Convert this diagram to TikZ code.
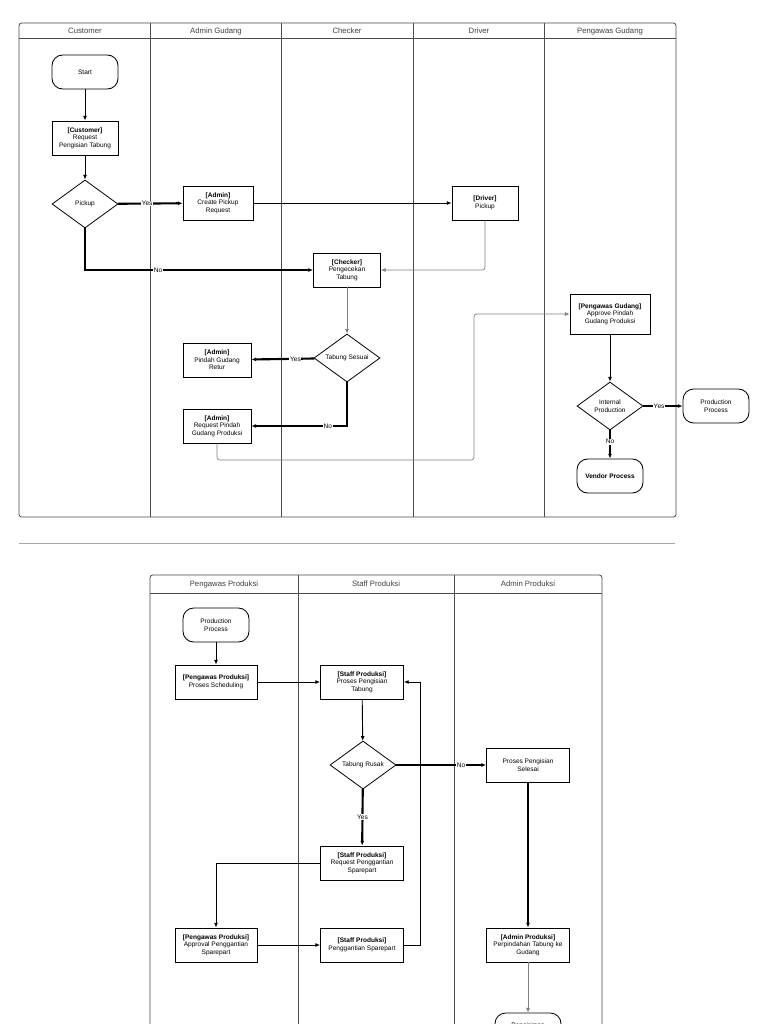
\documentclass[tikz,border=0pt]{standalone}
\usepackage{fontspec}
\setmainfont{Liberation Sans}
\usetikzlibrary{shapes.geometric,arrows.meta}
\begin{document}
\begin{tikzpicture}[x=0.75pt,y=-0.75pt,
  box/.style={draw,line width=0.65pt,font=\fontsize{4.9}{5.7}\selectfont,align=center,minimum width=66*0.75pt,minimum height=34*0.75pt,inner sep=1pt},
  term/.style={box,rounded corners=8pt},
  dec/.style={draw,diamond,aspect=1.4,line width=0.6pt,font=\fontsize{4.9}{5.7}\selectfont,align=center,minimum width=66*0.75pt,minimum height=48*0.75pt,inner sep=0pt},
  ar/.style={-{Latex[length=3.5pt,width=3pt]},line width=0.7pt},
  thk/.style={ar,line width=1.6pt},
  gr/.style={ar,draw=gray,line width=0.5pt},
  lbl/.style={font=\fontsize{4.9}{5.7}\selectfont,fill=white,inner sep=0.5pt},
  hdr/.style={font=\fontsize{5.8}{6.5}\selectfont,text=black!75,text height=4.5pt,text depth=1.2pt},
  lane/.style={draw=black!70,line width=0.6pt}]
\useasboundingbox (0,0) rectangle (768,1024);
\clip (0,0) rectangle (768,1024);
\fill[white] (0,0) rectangle (768,1024);
% top pool
\draw[lane,rounded corners=2pt] (19,23) rectangle (676,517);
\draw[lane] (19,38) -- (676,38);
\foreach \x in {150,281,413,544} \draw[lane] (\x,23) -- (\x,517);
\node[hdr] at (85,31) {Customer};
\node[hdr] at (216,31) {Admin Gudang};
\node[hdr] at (347,31) {Checker};
\node[hdr] at (479,31) {Driver};
\node[hdr] at (610,31) {Pengawas Gudang};
\draw[gray!70,line width=0.5pt] (19,543) -- (675,543);
% bottom pool
\draw[lane,rounded corners=2pt] (150,575) rectangle (602,1040);
\draw[lane] (150,593) -- (602,593);
\foreach \x in {298,454} \draw[lane] (\x,575) -- (\x,1040);
\node[hdr] at (224,584) {Pengawas Produksi};
\node[hdr] at (376,584) {Staff Produksi};
\node[hdr] at (528,584) {Admin Produksi};
% top nodes
\node[term] (start) at (85,72) {Start};
\node[box] (creq) at (85,138) {\textbf{[Customer]}\\Request\\Pengisian Tabung};
\node[dec] (pick) at (85,204) {Pickup};
\node[box,minimum width=70*0.75pt] (acreate) at (218,203) {\textbf{[Admin]}\\Create Pickup\\Request};
\node[box] (driver) at (485,203) {\textbf{[Driver]}\\Pickup};
\node[box,minimum width=67*0.75pt] (check) at (347,270) {\textbf{[Checker]}\\Pengecekan\\Tabung};
\node[dec] (sesuai) at (347,358) {Tabung Sesuai};
\node[box,minimum width=68*0.75pt] (retur) at (217,360) {\textbf{[Admin]}\\Pindah Gudang\\Retur};
\node[box,minimum width=68*0.75pt] (rpindah) at (217,426) {\textbf{[Admin]}\\Request Pindah\\Gudang Produksi};
\node[box,minimum width=80*0.75pt,minimum height=40*0.75pt] (approve) at (610,314) {\textbf{[Pengawas Gudang]}\\Approve Pindah\\Gudang Produksi};
\node[dec] (internal) at (610,406) {Internal\\Production};
\node[term] (prodA) at (716,406) {Production\\Process};
\node[term] (vendor) at (610,476) {\textbf{Vendor Process}};
% top edges
\draw[ar] (start) -- (creq);
\draw[ar] (creq) -- (pick);
\draw[thk] (pick) -- node[lbl,pos=0.45]{Yes} (acreate);
\draw[ar] (acreate) -- (driver);
\draw[gr,rounded corners=2pt] (driver.south) |- (check.east);
\draw[thk] (pick.south) |- node[lbl,pos=0.66]{No} (check.west);
\draw[gr] (check) -- (sesuai);
\draw[thk] (sesuai) -- node[lbl,pos=0.3]{Yes} (retur);
\draw[thk] (sesuai.south) |- node[lbl,pos=0.6]{No} (rpindah.east);
\draw[gr,rounded corners=2pt] (rpindah.south) -- (217,460) -- (474,460) -- (474,314) -- (approve.west);
\draw[ar] (approve) -- (internal);
\draw[thk] (internal) -- node[lbl,pos=0.4]{Yes} (prodA);
\draw[thk] (internal) -- node[lbl,pos=0.4]{No} (vendor);
% bottom nodes
\node[term] (prodB) at (216,625) {Production\\Process};
\node[box,minimum width=82*0.75pt] (sched) at (216,682) {\textbf{[Pengawas Produksi]}\\Proses Scheduling};
\node[box,minimum width=83*0.75pt] (proses) at (362,682) {\textbf{[Staff Produksi]}\\Proses Pengisian\\Tabung};
\node[dec] (rusak) at (363,765) {Tabung Rusak};
\node[box,minimum width=83*0.75pt] (selesai) at (528,765) {Proses Pengisian\\Selesai};
\node[box,minimum width=83*0.75pt] (sreq) at (362,863) {\textbf{[Staff Produksi]}\\Request Penggantian\\Sparepart};
\node[box,minimum width=82*0.75pt] (appr) at (216,945) {\textbf{[Pengawas Produksi]}\\Approval Penggantian\\Sparepart};
\node[box,minimum width=83*0.75pt] (ganti) at (362,945) {\textbf{[Staff Produksi]}\\Penggantian Sparepart};
\node[box,minimum width=83*0.75pt] (pindah) at (528,945) {\textbf{[Admin Produksi]}\\Perpindahan Tabung ke\\Gudang};
\node[term] (kirim) at (528,1030) {Pengiriman\\Tabung};
% bottom edges
\draw[ar] (prodB) -- (sched);
\draw[ar] (sched) -- (proses);
\draw[ar] (proses) -- (rusak);
\draw[thk] (rusak) -- node[lbl,pos=0.72]{No} (selesai);
\draw[thk] (rusak) -- node[lbl,pos=0.5]{Yes} (sreq);
\draw[ar] (sreq.west) -| (appr.north);
\draw[ar] (appr) -- (ganti);
\draw[ar] (ganti.east) -- (420,945) -- (420,682) -- (proses.east);
\draw[thk,line width=1.1pt] (selesai) -- (pindah);
\draw[gr] (pindah) -- (kirim);
\end{tikzpicture}
\end{document}
